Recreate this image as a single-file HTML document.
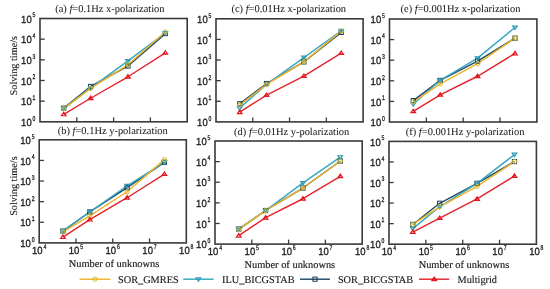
<!DOCTYPE html><html><head><meta charset="utf-8"><style>html,body{margin:0;padding:0;background:#fff;overflow:hidden;width:550px;height:289px;}svg{display:block;filter:blur(0.3px);}</style></head><body>
<svg width="550" height="289" viewBox="0 0 550 289">
<rect width="550" height="289" fill="#fff"/>
<polyline points="63.74,108.16 90.6,86.47 127.95,66.02 165.3,33.58" fill="none" stroke="#1f4a66" stroke-width="1.45" stroke-linejoin="round"/>
<polyline points="63.74,108.58 90.6,88.12 127.95,60.85 165.3,32.96" fill="none" stroke="#38a7c0" stroke-width="1.45" stroke-linejoin="round"/>
<polyline points="63.74,108.58 90.6,88.33 127.95,64.78 165.3,31.93" fill="none" stroke="#efb32a" stroke-width="1.45" stroke-linejoin="round"/>
<polyline points="63.74,114.36 90.6,98.25 127.95,76.76 165.3,52.8" fill="none" stroke="#e3252d" stroke-width="1.45" stroke-linejoin="round"/>
<rect x="61.64" y="106.06" width="4.2" height="4.2" fill="none" stroke="#1b3f58" stroke-width="1.0"/>
<rect x="88.5" y="84.37" width="4.2" height="4.2" fill="none" stroke="#1b3f58" stroke-width="1.0"/>
<rect x="125.85" y="63.92" width="4.2" height="4.2" fill="none" stroke="#1b3f58" stroke-width="1.0"/>
<rect x="163.2" y="31.48" width="4.2" height="4.2" fill="none" stroke="#1b3f58" stroke-width="1.0"/>
<polygon points="61.49,107.23 65.99,107.23 63.74,110.6" fill="none" stroke="#2f9ab4" stroke-width="1.2" stroke-linejoin="miter"/>
<polygon points="88.35,86.77 92.85,86.77 90.6,90.15" fill="none" stroke="#2f9ab4" stroke-width="1.2" stroke-linejoin="miter"/>
<polygon points="125.7,59.5 130.2,59.5 127.95,62.88" fill="none" stroke="#2f9ab4" stroke-width="1.2" stroke-linejoin="miter"/>
<polygon points="163.05,31.61 167.55,31.61 165.3,34.99" fill="none" stroke="#2f9ab4" stroke-width="1.2" stroke-linejoin="miter"/>
<circle cx="63.74" cy="108.58" r="2.1" fill="none" stroke="#d8bb2a" stroke-width="1.0"/>
<circle cx="90.6" cy="88.33" r="2.1" fill="none" stroke="#d8bb2a" stroke-width="1.0"/>
<circle cx="127.95" cy="64.78" r="2.1" fill="none" stroke="#d8bb2a" stroke-width="1.0"/>
<circle cx="165.3" cy="31.93" r="2.1" fill="none" stroke="#d8bb2a" stroke-width="1.0"/>
<polygon points="61.44,115.74 66.04,115.74 63.74,112.29" fill="none" stroke="#e3141e" stroke-width="1.2" stroke-linejoin="miter"/>
<polygon points="88.3,99.63 92.9,99.63 90.6,96.18" fill="none" stroke="#e3141e" stroke-width="1.2" stroke-linejoin="miter"/>
<polygon points="125.65,78.14 130.25,78.14 127.95,74.69" fill="none" stroke="#e3141e" stroke-width="1.2" stroke-linejoin="miter"/>
<polygon points="163,54.18 167.6,54.18 165.3,50.73" fill="none" stroke="#e3141e" stroke-width="1.2" stroke-linejoin="miter"/>
<rect x="40" y="18.5" width="147.2" height="103.3" fill="none" stroke="#3a3a3a" stroke-width="1.6"/>
<line x1="40" y1="101.14" x2="44.7" y2="101.14" stroke="#3a3a3a" stroke-width="1.3"/>
<line x1="40" y1="80.48" x2="44.7" y2="80.48" stroke="#3a3a3a" stroke-width="1.3"/>
<line x1="40" y1="59.82" x2="44.7" y2="59.82" stroke="#3a3a3a" stroke-width="1.3"/>
<line x1="40" y1="39.16" x2="44.7" y2="39.16" stroke="#3a3a3a" stroke-width="1.3"/>
<line x1="76.8" y1="121.8" x2="76.8" y2="117.3" stroke="#3a3a3a" stroke-width="1.3"/>
<line x1="113.6" y1="121.8" x2="113.6" y2="117.3" stroke="#3a3a3a" stroke-width="1.3"/>
<line x1="150.4" y1="121.8" x2="150.4" y2="117.3" stroke="#3a3a3a" stroke-width="1.3"/>
<g font-family="'Liberation Sans', Arial, sans-serif" fill="#1e1e1e" stroke="#1e1e1e" stroke-width="0.3" text-rendering="geometricPrecision">
<text transform="translate(31.7,125.95) scale(1,1.09)" font-size="9.5" text-anchor="end">10</text>
<text transform="translate(32.5,120.65) scale(0.75,1)" font-size="6.8" stroke-width="0.28">0</text>
<text transform="translate(31.7,105.29) scale(1,1.09)" font-size="9.5" text-anchor="end">10</text>
<text transform="translate(32.5,99.99) scale(0.75,1)" font-size="6.8" stroke-width="0.28">1</text>
<text transform="translate(31.7,84.63) scale(1,1.09)" font-size="9.5" text-anchor="end">10</text>
<text transform="translate(32.5,79.33) scale(0.75,1)" font-size="6.8" stroke-width="0.28">2</text>
<text transform="translate(31.7,63.97) scale(1,1.09)" font-size="9.5" text-anchor="end">10</text>
<text transform="translate(32.5,58.67) scale(0.75,1)" font-size="6.8" stroke-width="0.28">3</text>
<text transform="translate(31.7,43.31) scale(1,1.09)" font-size="9.5" text-anchor="end">10</text>
<text transform="translate(32.5,38.01) scale(0.75,1)" font-size="6.8" stroke-width="0.28">4</text>
<text transform="translate(31.7,22.65) scale(1,1.09)" font-size="9.5" text-anchor="end">10</text>
<text transform="translate(32.5,17.35) scale(0.75,1)" font-size="6.8" stroke-width="0.28">5</text>
</g>
<text x="55.2" y="12.25" font-family="'Liberation Serif', 'Times New Roman', serif" font-size="10.45" fill="#1a1a1a" stroke="#1a1a1a" stroke-width="0.05" text-rendering="geometricPrecision">(a) <tspan font-style="italic">f</tspan>=0.1Hz x-polarization</text>
<text transform="translate(17,65.7) rotate(-90)" text-anchor="middle" font-family="'Liberation Serif', 'Times New Roman', serif" font-size="10.25" fill="#1a1a1a" stroke="#1a1a1a" stroke-width="0.1" text-rendering="geometricPrecision">Solving time/s</text>
<polyline points="239.72,103.75 266.57,83.55 303.89,61.9 341.22,32.41" fill="none" stroke="#1f4a66" stroke-width="1.45" stroke-linejoin="round"/>
<polyline points="239.72,108.08 266.57,84.37 303.89,57.57 341.22,30.76" fill="none" stroke="#38a7c0" stroke-width="1.45" stroke-linejoin="round"/>
<polyline points="239.72,104.99 266.57,84.37 303.89,61.9 341.22,31.17" fill="none" stroke="#efb32a" stroke-width="1.45" stroke-linejoin="round"/>
<polyline points="239.72,112.21 266.57,95.09 303.89,76.12 341.22,53.03" fill="none" stroke="#e3252d" stroke-width="1.45" stroke-linejoin="round"/>
<rect x="237.62" y="101.65" width="4.2" height="4.2" fill="none" stroke="#1b3f58" stroke-width="1.0"/>
<rect x="264.47" y="81.45" width="4.2" height="4.2" fill="none" stroke="#1b3f58" stroke-width="1.0"/>
<rect x="301.79" y="59.8" width="4.2" height="4.2" fill="none" stroke="#1b3f58" stroke-width="1.0"/>
<rect x="339.12" y="30.31" width="4.2" height="4.2" fill="none" stroke="#1b3f58" stroke-width="1.0"/>
<polygon points="237.47,106.73 241.97,106.73 239.72,110.11" fill="none" stroke="#2f9ab4" stroke-width="1.2" stroke-linejoin="miter"/>
<polygon points="264.32,83.02 268.82,83.02 266.57,86.4" fill="none" stroke="#2f9ab4" stroke-width="1.2" stroke-linejoin="miter"/>
<polygon points="301.64,56.22 306.14,56.22 303.89,59.59" fill="none" stroke="#2f9ab4" stroke-width="1.2" stroke-linejoin="miter"/>
<polygon points="338.97,29.41 343.47,29.41 341.22,32.78" fill="none" stroke="#2f9ab4" stroke-width="1.2" stroke-linejoin="miter"/>
<circle cx="239.72" cy="104.99" r="2.1" fill="none" stroke="#d8bb2a" stroke-width="1.0"/>
<circle cx="266.57" cy="84.37" r="2.1" fill="none" stroke="#d8bb2a" stroke-width="1.0"/>
<circle cx="303.89" cy="61.9" r="2.1" fill="none" stroke="#d8bb2a" stroke-width="1.0"/>
<circle cx="341.22" cy="31.17" r="2.1" fill="none" stroke="#d8bb2a" stroke-width="1.0"/>
<polygon points="237.42,113.59 242.02,113.59 239.72,110.14" fill="none" stroke="#e3141e" stroke-width="1.2" stroke-linejoin="miter"/>
<polygon points="264.27,96.47 268.87,96.47 266.57,93.02" fill="none" stroke="#e3141e" stroke-width="1.2" stroke-linejoin="miter"/>
<polygon points="301.59,77.5 306.19,77.5 303.89,74.05" fill="none" stroke="#e3141e" stroke-width="1.2" stroke-linejoin="miter"/>
<polygon points="338.92,54.41 343.52,54.41 341.22,50.96" fill="none" stroke="#e3141e" stroke-width="1.2" stroke-linejoin="miter"/>
<rect x="216" y="18.8" width="147.1" height="103.1" fill="none" stroke="#3a3a3a" stroke-width="1.6"/>
<line x1="216" y1="101.28" x2="220.7" y2="101.28" stroke="#3a3a3a" stroke-width="1.3"/>
<line x1="216" y1="80.66" x2="220.7" y2="80.66" stroke="#3a3a3a" stroke-width="1.3"/>
<line x1="216" y1="60.04" x2="220.7" y2="60.04" stroke="#3a3a3a" stroke-width="1.3"/>
<line x1="216" y1="39.42" x2="220.7" y2="39.42" stroke="#3a3a3a" stroke-width="1.3"/>
<line x1="252.78" y1="121.9" x2="252.78" y2="117.4" stroke="#3a3a3a" stroke-width="1.3"/>
<line x1="289.55" y1="121.9" x2="289.55" y2="117.4" stroke="#3a3a3a" stroke-width="1.3"/>
<line x1="326.33" y1="121.9" x2="326.33" y2="117.4" stroke="#3a3a3a" stroke-width="1.3"/>
<g font-family="'Liberation Sans', Arial, sans-serif" fill="#1e1e1e" stroke="#1e1e1e" stroke-width="0.3" text-rendering="geometricPrecision">
<text transform="translate(207.7,126.05) scale(1,1.09)" font-size="9.5" text-anchor="end">10</text>
<text transform="translate(208.5,120.75) scale(0.75,1)" font-size="6.8" stroke-width="0.28">0</text>
<text transform="translate(207.7,105.43) scale(1,1.09)" font-size="9.5" text-anchor="end">10</text>
<text transform="translate(208.5,100.13) scale(0.75,1)" font-size="6.8" stroke-width="0.28">1</text>
<text transform="translate(207.7,84.81) scale(1,1.09)" font-size="9.5" text-anchor="end">10</text>
<text transform="translate(208.5,79.51) scale(0.75,1)" font-size="6.8" stroke-width="0.28">2</text>
<text transform="translate(207.7,64.19) scale(1,1.09)" font-size="9.5" text-anchor="end">10</text>
<text transform="translate(208.5,58.89) scale(0.75,1)" font-size="6.8" stroke-width="0.28">3</text>
<text transform="translate(207.7,43.57) scale(1,1.09)" font-size="9.5" text-anchor="end">10</text>
<text transform="translate(208.5,38.27) scale(0.75,1)" font-size="6.8" stroke-width="0.28">4</text>
<text transform="translate(207.7,22.95) scale(1,1.09)" font-size="9.5" text-anchor="end">10</text>
<text transform="translate(208.5,17.65) scale(0.75,1)" font-size="6.8" stroke-width="0.28">5</text>
</g>
<text x="231.5" y="12.25" font-family="'Liberation Serif', 'Times New Roman', serif" font-size="10.45" fill="#1a1a1a" stroke="#1a1a1a" stroke-width="0.05" text-rendering="geometricPrecision">(c) <tspan font-style="italic">f</tspan>=0.01Hz x-polarization</text>
<polyline points="413.27,100.58 440.17,80.39 477.57,61.02 514.97,38.16" fill="none" stroke="#1f4a66" stroke-width="1.45" stroke-linejoin="round"/>
<polyline points="413.27,104.08 440.17,80.39 477.57,58.14 514.97,27.45" fill="none" stroke="#38a7c0" stroke-width="1.45" stroke-linejoin="round"/>
<polyline points="413.27,102.02 440.17,83.89 477.57,63.7 514.97,38.16" fill="none" stroke="#efb32a" stroke-width="1.45" stroke-linejoin="round"/>
<polyline points="413.27,111.29 440.17,94.81 477.57,76.27 514.97,53.4" fill="none" stroke="#e3252d" stroke-width="1.45" stroke-linejoin="round"/>
<rect x="411.17" y="98.48" width="4.2" height="4.2" fill="none" stroke="#1b3f58" stroke-width="1.0"/>
<rect x="438.07" y="78.29" width="4.2" height="4.2" fill="none" stroke="#1b3f58" stroke-width="1.0"/>
<rect x="475.47" y="58.92" width="4.2" height="4.2" fill="none" stroke="#1b3f58" stroke-width="1.0"/>
<rect x="512.87" y="36.06" width="4.2" height="4.2" fill="none" stroke="#1b3f58" stroke-width="1.0"/>
<polygon points="411.02,102.73 415.52,102.73 413.27,106.1" fill="none" stroke="#2f9ab4" stroke-width="1.2" stroke-linejoin="miter"/>
<polygon points="437.92,79.04 442.42,79.04 440.17,82.41" fill="none" stroke="#2f9ab4" stroke-width="1.2" stroke-linejoin="miter"/>
<polygon points="475.32,56.79 479.82,56.79 477.57,60.16" fill="none" stroke="#2f9ab4" stroke-width="1.2" stroke-linejoin="miter"/>
<polygon points="512.72,26.1 517.22,26.1 514.97,29.47" fill="none" stroke="#2f9ab4" stroke-width="1.2" stroke-linejoin="miter"/>
<circle cx="413.27" cy="102.02" r="2.1" fill="none" stroke="#d8bb2a" stroke-width="1.0"/>
<circle cx="440.17" cy="83.89" r="2.1" fill="none" stroke="#d8bb2a" stroke-width="1.0"/>
<circle cx="477.57" cy="63.7" r="2.1" fill="none" stroke="#d8bb2a" stroke-width="1.0"/>
<circle cx="514.97" cy="38.16" r="2.1" fill="none" stroke="#d8bb2a" stroke-width="1.0"/>
<polygon points="410.97,112.67 415.57,112.67 413.27,109.22" fill="none" stroke="#e3141e" stroke-width="1.2" stroke-linejoin="miter"/>
<polygon points="437.87,96.19 442.47,96.19 440.17,92.74" fill="none" stroke="#e3141e" stroke-width="1.2" stroke-linejoin="miter"/>
<polygon points="475.27,77.65 479.87,77.65 477.57,74.2" fill="none" stroke="#e3141e" stroke-width="1.2" stroke-linejoin="miter"/>
<polygon points="512.67,54.78 517.27,54.78 514.97,51.33" fill="none" stroke="#e3141e" stroke-width="1.2" stroke-linejoin="miter"/>
<rect x="389.5" y="19" width="147.4" height="103" fill="none" stroke="#3a3a3a" stroke-width="1.6"/>
<line x1="389.5" y1="101.4" x2="394.2" y2="101.4" stroke="#3a3a3a" stroke-width="1.3"/>
<line x1="389.5" y1="80.8" x2="394.2" y2="80.8" stroke="#3a3a3a" stroke-width="1.3"/>
<line x1="389.5" y1="60.2" x2="394.2" y2="60.2" stroke="#3a3a3a" stroke-width="1.3"/>
<line x1="389.5" y1="39.6" x2="394.2" y2="39.6" stroke="#3a3a3a" stroke-width="1.3"/>
<line x1="426.35" y1="122" x2="426.35" y2="117.5" stroke="#3a3a3a" stroke-width="1.3"/>
<line x1="463.2" y1="122" x2="463.2" y2="117.5" stroke="#3a3a3a" stroke-width="1.3"/>
<line x1="500.05" y1="122" x2="500.05" y2="117.5" stroke="#3a3a3a" stroke-width="1.3"/>
<g font-family="'Liberation Sans', Arial, sans-serif" fill="#1e1e1e" stroke="#1e1e1e" stroke-width="0.3" text-rendering="geometricPrecision">
<text transform="translate(381.2,126.15) scale(1,1.09)" font-size="9.5" text-anchor="end">10</text>
<text transform="translate(382,120.85) scale(0.75,1)" font-size="6.8" stroke-width="0.28">0</text>
<text transform="translate(381.2,105.55) scale(1,1.09)" font-size="9.5" text-anchor="end">10</text>
<text transform="translate(382,100.25) scale(0.75,1)" font-size="6.8" stroke-width="0.28">1</text>
<text transform="translate(381.2,84.95) scale(1,1.09)" font-size="9.5" text-anchor="end">10</text>
<text transform="translate(382,79.65) scale(0.75,1)" font-size="6.8" stroke-width="0.28">2</text>
<text transform="translate(381.2,64.35) scale(1,1.09)" font-size="9.5" text-anchor="end">10</text>
<text transform="translate(382,59.05) scale(0.75,1)" font-size="6.8" stroke-width="0.28">3</text>
<text transform="translate(381.2,43.75) scale(1,1.09)" font-size="9.5" text-anchor="end">10</text>
<text transform="translate(382,38.45) scale(0.75,1)" font-size="6.8" stroke-width="0.28">4</text>
<text transform="translate(381.2,23.15) scale(1,1.09)" font-size="9.5" text-anchor="end">10</text>
<text transform="translate(382,17.85) scale(0.75,1)" font-size="6.8" stroke-width="0.28">5</text>
</g>
<text x="400.6" y="12.25" font-family="'Liberation Serif', 'Times New Roman', serif" font-size="10.45" fill="#1a1a1a" stroke="#1a1a1a" stroke-width="0.05" text-rendering="geometricPrecision">(e) <tspan font-style="italic">f</tspan>=0.001Hz x-polarization</text>
<polyline points="62.92,231.15 89.77,211.97 127.09,187.64 164.42,162.28" fill="none" stroke="#1f4a66" stroke-width="1.45" stroke-linejoin="round"/>
<polyline points="62.92,230.73 89.77,211.97 127.09,185.78 164.42,162.28" fill="none" stroke="#38a7c0" stroke-width="1.45" stroke-linejoin="round"/>
<polyline points="62.92,231.97 89.77,215.89 127.09,191.76 164.42,159.6" fill="none" stroke="#efb32a" stroke-width="1.45" stroke-linejoin="round"/>
<polyline points="62.92,237.13 89.77,219.6 127.09,197.74 164.42,174.03" fill="none" stroke="#e3252d" stroke-width="1.45" stroke-linejoin="round"/>
<rect x="60.82" y="229.05" width="4.2" height="4.2" fill="none" stroke="#1b3f58" stroke-width="1.0"/>
<rect x="87.67" y="209.87" width="4.2" height="4.2" fill="none" stroke="#1b3f58" stroke-width="1.0"/>
<rect x="124.99" y="185.54" width="4.2" height="4.2" fill="none" stroke="#1b3f58" stroke-width="1.0"/>
<rect x="162.32" y="160.18" width="4.2" height="4.2" fill="none" stroke="#1b3f58" stroke-width="1.0"/>
<polygon points="60.67,229.38 65.17,229.38 62.92,232.76" fill="none" stroke="#2f9ab4" stroke-width="1.2" stroke-linejoin="miter"/>
<polygon points="87.52,210.62 92.02,210.62 89.77,214" fill="none" stroke="#2f9ab4" stroke-width="1.2" stroke-linejoin="miter"/>
<polygon points="124.84,184.43 129.34,184.43 127.09,187.81" fill="none" stroke="#2f9ab4" stroke-width="1.2" stroke-linejoin="miter"/>
<polygon points="162.17,160.93 166.67,160.93 164.42,164.3" fill="none" stroke="#2f9ab4" stroke-width="1.2" stroke-linejoin="miter"/>
<circle cx="62.92" cy="231.97" r="2.1" fill="none" stroke="#d8bb2a" stroke-width="1.0"/>
<circle cx="89.77" cy="215.89" r="2.1" fill="none" stroke="#d8bb2a" stroke-width="1.0"/>
<circle cx="127.09" cy="191.76" r="2.1" fill="none" stroke="#d8bb2a" stroke-width="1.0"/>
<circle cx="164.42" cy="159.6" r="2.1" fill="none" stroke="#d8bb2a" stroke-width="1.0"/>
<polygon points="60.62,238.51 65.22,238.51 62.92,235.06" fill="none" stroke="#e3141e" stroke-width="1.2" stroke-linejoin="miter"/>
<polygon points="87.47,220.98 92.07,220.98 89.77,217.53" fill="none" stroke="#e3141e" stroke-width="1.2" stroke-linejoin="miter"/>
<polygon points="124.79,199.12 129.39,199.12 127.09,195.67" fill="none" stroke="#e3141e" stroke-width="1.2" stroke-linejoin="miter"/>
<polygon points="162.12,175.41 166.72,175.41 164.42,171.96" fill="none" stroke="#e3141e" stroke-width="1.2" stroke-linejoin="miter"/>
<rect x="39.2" y="139.8" width="147.1" height="103.1" fill="none" stroke="#3a3a3a" stroke-width="1.6"/>
<line x1="39.2" y1="222.28" x2="43.9" y2="222.28" stroke="#3a3a3a" stroke-width="1.3"/>
<line x1="39.2" y1="201.66" x2="43.9" y2="201.66" stroke="#3a3a3a" stroke-width="1.3"/>
<line x1="39.2" y1="181.04" x2="43.9" y2="181.04" stroke="#3a3a3a" stroke-width="1.3"/>
<line x1="39.2" y1="160.42" x2="43.9" y2="160.42" stroke="#3a3a3a" stroke-width="1.3"/>
<line x1="75.98" y1="242.9" x2="75.98" y2="238.4" stroke="#3a3a3a" stroke-width="1.3"/>
<line x1="112.75" y1="242.9" x2="112.75" y2="238.4" stroke="#3a3a3a" stroke-width="1.3"/>
<line x1="149.53" y1="242.9" x2="149.53" y2="238.4" stroke="#3a3a3a" stroke-width="1.3"/>
<g font-family="'Liberation Sans', Arial, sans-serif" fill="#1e1e1e" stroke="#1e1e1e" stroke-width="0.3" text-rendering="geometricPrecision">
<text transform="translate(30.9,247.05) scale(1,1.09)" font-size="9.5" text-anchor="end">10</text>
<text transform="translate(31.7,241.75) scale(0.75,1)" font-size="6.8" stroke-width="0.28">0</text>
<text transform="translate(30.9,226.43) scale(1,1.09)" font-size="9.5" text-anchor="end">10</text>
<text transform="translate(31.7,221.13) scale(0.75,1)" font-size="6.8" stroke-width="0.28">1</text>
<text transform="translate(30.9,205.81) scale(1,1.09)" font-size="9.5" text-anchor="end">10</text>
<text transform="translate(31.7,200.51) scale(0.75,1)" font-size="6.8" stroke-width="0.28">2</text>
<text transform="translate(30.9,185.19) scale(1,1.09)" font-size="9.5" text-anchor="end">10</text>
<text transform="translate(31.7,179.89) scale(0.75,1)" font-size="6.8" stroke-width="0.28">3</text>
<text transform="translate(30.9,164.57) scale(1,1.09)" font-size="9.5" text-anchor="end">10</text>
<text transform="translate(31.7,159.27) scale(0.75,1)" font-size="6.8" stroke-width="0.28">4</text>
<text transform="translate(30.9,143.95) scale(1,1.09)" font-size="9.5" text-anchor="end">10</text>
<text transform="translate(31.7,138.65) scale(0.75,1)" font-size="6.8" stroke-width="0.28">5</text>
<text transform="translate(42.6,253.8) scale(1,1.09)" font-size="9.5" text-anchor="end">10</text>
<text transform="translate(43.4,248.5) scale(0.75,1)" font-size="6.8" stroke-width="0.28">4</text>
<text transform="translate(79.38,253.8) scale(1,1.09)" font-size="9.5" text-anchor="end">10</text>
<text transform="translate(80.18,248.5) scale(0.75,1)" font-size="6.8" stroke-width="0.28">5</text>
<text transform="translate(116.15,253.8) scale(1,1.09)" font-size="9.5" text-anchor="end">10</text>
<text transform="translate(116.95,248.5) scale(0.75,1)" font-size="6.8" stroke-width="0.28">6</text>
<text transform="translate(152.93,253.8) scale(1,1.09)" font-size="9.5" text-anchor="end">10</text>
<text transform="translate(153.73,248.5) scale(0.75,1)" font-size="6.8" stroke-width="0.28">7</text>
<text transform="translate(189.7,253.8) scale(1,1.09)" font-size="9.5" text-anchor="end">10</text>
<text transform="translate(190.5,248.5) scale(0.75,1)" font-size="6.8" stroke-width="0.28">8</text>
</g>
<text x="57.8" y="133.85" font-family="'Liberation Serif', 'Times New Roman', serif" font-size="10.45" fill="#1a1a1a" stroke="#1a1a1a" stroke-width="0.05" text-rendering="geometricPrecision">(b) <tspan font-style="italic">f</tspan>=0.1Hz y-polarization</text>
<text transform="translate(17,186.1) rotate(-90)" text-anchor="middle" font-family="'Liberation Serif', 'Times New Roman', serif" font-size="10.25" fill="#1a1a1a" stroke="#1a1a1a" stroke-width="0.1" text-rendering="geometricPrecision">Solving time/s</text>
<text x="114" y="266.5" text-anchor="middle" font-family="'Liberation Serif', 'Times New Roman', serif" font-size="10.4" fill="#1a1a1a" stroke="#1a1a1a" stroke-width="0.16" text-rendering="geometricPrecision">Number of unknowns</text>
<polyline points="238.74,229.05 265.6,210.49 302.95,188.01 340.3,161" fill="none" stroke="#1f4a66" stroke-width="1.45" stroke-linejoin="round"/>
<polyline points="238.74,229.46 265.6,210.7 302.95,182.86 340.3,157.08" fill="none" stroke="#38a7c0" stroke-width="1.45" stroke-linejoin="round"/>
<polyline points="238.74,229.46 265.6,210.7 302.95,188.01 340.3,161" fill="none" stroke="#efb32a" stroke-width="1.45" stroke-linejoin="round"/>
<polyline points="238.74,235.65 265.6,217.71 302.95,198.74 340.3,176.26" fill="none" stroke="#e3252d" stroke-width="1.45" stroke-linejoin="round"/>
<rect x="236.64" y="226.95" width="4.2" height="4.2" fill="none" stroke="#1b3f58" stroke-width="1.0"/>
<rect x="263.5" y="208.39" width="4.2" height="4.2" fill="none" stroke="#1b3f58" stroke-width="1.0"/>
<rect x="300.85" y="185.91" width="4.2" height="4.2" fill="none" stroke="#1b3f58" stroke-width="1.0"/>
<rect x="338.2" y="158.9" width="4.2" height="4.2" fill="none" stroke="#1b3f58" stroke-width="1.0"/>
<polygon points="236.49,228.11 240.99,228.11 238.74,231.48" fill="none" stroke="#2f9ab4" stroke-width="1.2" stroke-linejoin="miter"/>
<polygon points="263.35,209.35 267.85,209.35 265.6,212.72" fill="none" stroke="#2f9ab4" stroke-width="1.2" stroke-linejoin="miter"/>
<polygon points="300.7,181.51 305.2,181.51 302.95,184.88" fill="none" stroke="#2f9ab4" stroke-width="1.2" stroke-linejoin="miter"/>
<polygon points="338.05,155.73 342.55,155.73 340.3,159.11" fill="none" stroke="#2f9ab4" stroke-width="1.2" stroke-linejoin="miter"/>
<circle cx="238.74" cy="229.46" r="2.1" fill="none" stroke="#d8bb2a" stroke-width="1.0"/>
<circle cx="265.6" cy="210.7" r="2.1" fill="none" stroke="#d8bb2a" stroke-width="1.0"/>
<circle cx="302.95" cy="188.01" r="2.1" fill="none" stroke="#d8bb2a" stroke-width="1.0"/>
<circle cx="340.3" cy="161" r="2.1" fill="none" stroke="#d8bb2a" stroke-width="1.0"/>
<polygon points="236.44,237.03 241.04,237.03 238.74,233.58" fill="none" stroke="#e3141e" stroke-width="1.2" stroke-linejoin="miter"/>
<polygon points="263.3,219.09 267.9,219.09 265.6,215.64" fill="none" stroke="#e3141e" stroke-width="1.2" stroke-linejoin="miter"/>
<polygon points="300.65,200.12 305.25,200.12 302.95,196.67" fill="none" stroke="#e3141e" stroke-width="1.2" stroke-linejoin="miter"/>
<polygon points="338,177.64 342.6,177.64 340.3,174.19" fill="none" stroke="#e3141e" stroke-width="1.2" stroke-linejoin="miter"/>
<rect x="215" y="141" width="147.2" height="103.1" fill="none" stroke="#3a3a3a" stroke-width="1.6"/>
<line x1="215" y1="223.48" x2="219.7" y2="223.48" stroke="#3a3a3a" stroke-width="1.3"/>
<line x1="215" y1="202.86" x2="219.7" y2="202.86" stroke="#3a3a3a" stroke-width="1.3"/>
<line x1="215" y1="182.24" x2="219.7" y2="182.24" stroke="#3a3a3a" stroke-width="1.3"/>
<line x1="215" y1="161.62" x2="219.7" y2="161.62" stroke="#3a3a3a" stroke-width="1.3"/>
<line x1="251.8" y1="244.1" x2="251.8" y2="239.6" stroke="#3a3a3a" stroke-width="1.3"/>
<line x1="288.6" y1="244.1" x2="288.6" y2="239.6" stroke="#3a3a3a" stroke-width="1.3"/>
<line x1="325.4" y1="244.1" x2="325.4" y2="239.6" stroke="#3a3a3a" stroke-width="1.3"/>
<g font-family="'Liberation Sans', Arial, sans-serif" fill="#1e1e1e" stroke="#1e1e1e" stroke-width="0.3" text-rendering="geometricPrecision">
<text transform="translate(206.7,248.25) scale(1,1.09)" font-size="9.5" text-anchor="end">10</text>
<text transform="translate(207.5,242.95) scale(0.75,1)" font-size="6.8" stroke-width="0.28">0</text>
<text transform="translate(206.7,227.63) scale(1,1.09)" font-size="9.5" text-anchor="end">10</text>
<text transform="translate(207.5,222.33) scale(0.75,1)" font-size="6.8" stroke-width="0.28">1</text>
<text transform="translate(206.7,207.01) scale(1,1.09)" font-size="9.5" text-anchor="end">10</text>
<text transform="translate(207.5,201.71) scale(0.75,1)" font-size="6.8" stroke-width="0.28">2</text>
<text transform="translate(206.7,186.39) scale(1,1.09)" font-size="9.5" text-anchor="end">10</text>
<text transform="translate(207.5,181.09) scale(0.75,1)" font-size="6.8" stroke-width="0.28">3</text>
<text transform="translate(206.7,165.77) scale(1,1.09)" font-size="9.5" text-anchor="end">10</text>
<text transform="translate(207.5,160.47) scale(0.75,1)" font-size="6.8" stroke-width="0.28">4</text>
<text transform="translate(206.7,145.15) scale(1,1.09)" font-size="9.5" text-anchor="end">10</text>
<text transform="translate(207.5,139.85) scale(0.75,1)" font-size="6.8" stroke-width="0.28">5</text>
<text transform="translate(218.4,255) scale(1,1.09)" font-size="9.5" text-anchor="end">10</text>
<text transform="translate(219.2,249.7) scale(0.75,1)" font-size="6.8" stroke-width="0.28">4</text>
<text transform="translate(255.2,255) scale(1,1.09)" font-size="9.5" text-anchor="end">10</text>
<text transform="translate(256,249.7) scale(0.75,1)" font-size="6.8" stroke-width="0.28">5</text>
<text transform="translate(292,255) scale(1,1.09)" font-size="9.5" text-anchor="end">10</text>
<text transform="translate(292.8,249.7) scale(0.75,1)" font-size="6.8" stroke-width="0.28">6</text>
<text transform="translate(328.8,255) scale(1,1.09)" font-size="9.5" text-anchor="end">10</text>
<text transform="translate(329.6,249.7) scale(0.75,1)" font-size="6.8" stroke-width="0.28">7</text>
<text transform="translate(365.6,255) scale(1,1.09)" font-size="9.5" text-anchor="end">10</text>
<text transform="translate(366.4,249.7) scale(0.75,1)" font-size="6.8" stroke-width="0.28">8</text>
</g>
<text x="234.1" y="134.85" font-family="'Liberation Serif', 'Times New Roman', serif" font-size="10.45" fill="#1a1a1a" stroke="#1a1a1a" stroke-width="0.05" text-rendering="geometricPrecision">(d) <tspan font-style="italic">f</tspan>=0.01Hz y-polarization</text>
<text x="289.85" y="267.7" text-anchor="middle" font-family="'Liberation Serif', 'Times New Roman', serif" font-size="10.4" fill="#1a1a1a" stroke="#1a1a1a" stroke-width="0.16" text-rendering="geometricPrecision">Number of unknowns</text>
<polyline points="412.77,224.46 439.67,203.29 477.07,183.34 514.47,161.55" fill="none" stroke="#1f4a66" stroke-width="1.45" stroke-linejoin="round"/>
<polyline points="412.77,228.57 439.67,206.78 477.07,183.34 514.47,154.56" fill="none" stroke="#38a7c0" stroke-width="1.45" stroke-linejoin="round"/>
<polyline points="412.77,224.46 439.67,206.78 477.07,186.43 514.47,161.55" fill="none" stroke="#efb32a" stroke-width="1.45" stroke-linejoin="round"/>
<polyline points="412.77,232.07 439.67,218.09 477.07,198.97 514.47,175.94" fill="none" stroke="#e3252d" stroke-width="1.45" stroke-linejoin="round"/>
<rect x="410.67" y="222.36" width="4.2" height="4.2" fill="none" stroke="#1b3f58" stroke-width="1.0"/>
<rect x="437.57" y="201.19" width="4.2" height="4.2" fill="none" stroke="#1b3f58" stroke-width="1.0"/>
<rect x="474.97" y="181.24" width="4.2" height="4.2" fill="none" stroke="#1b3f58" stroke-width="1.0"/>
<rect x="512.37" y="159.45" width="4.2" height="4.2" fill="none" stroke="#1b3f58" stroke-width="1.0"/>
<polygon points="410.52,227.22 415.02,227.22 412.77,230.6" fill="none" stroke="#2f9ab4" stroke-width="1.2" stroke-linejoin="miter"/>
<polygon points="437.42,205.43 441.92,205.43 439.67,208.81" fill="none" stroke="#2f9ab4" stroke-width="1.2" stroke-linejoin="miter"/>
<polygon points="474.82,181.99 479.32,181.99 477.07,185.37" fill="none" stroke="#2f9ab4" stroke-width="1.2" stroke-linejoin="miter"/>
<polygon points="512.22,153.21 516.72,153.21 514.47,156.58" fill="none" stroke="#2f9ab4" stroke-width="1.2" stroke-linejoin="miter"/>
<circle cx="412.77" cy="224.46" r="2.1" fill="none" stroke="#d8bb2a" stroke-width="1.0"/>
<circle cx="439.67" cy="206.78" r="2.1" fill="none" stroke="#d8bb2a" stroke-width="1.0"/>
<circle cx="477.07" cy="186.43" r="2.1" fill="none" stroke="#d8bb2a" stroke-width="1.0"/>
<circle cx="514.47" cy="161.55" r="2.1" fill="none" stroke="#d8bb2a" stroke-width="1.0"/>
<polygon points="410.47,233.45 415.07,233.45 412.77,230" fill="none" stroke="#e3141e" stroke-width="1.2" stroke-linejoin="miter"/>
<polygon points="437.37,219.47 441.97,219.47 439.67,216.02" fill="none" stroke="#e3141e" stroke-width="1.2" stroke-linejoin="miter"/>
<polygon points="474.77,200.35 479.37,200.35 477.07,196.9" fill="none" stroke="#e3141e" stroke-width="1.2" stroke-linejoin="miter"/>
<polygon points="512.17,177.32 516.77,177.32 514.47,173.87" fill="none" stroke="#e3141e" stroke-width="1.2" stroke-linejoin="miter"/>
<rect x="389" y="141.4" width="147.4" height="102.8" fill="none" stroke="#3a3a3a" stroke-width="1.6"/>
<line x1="389" y1="223.64" x2="393.7" y2="223.64" stroke="#3a3a3a" stroke-width="1.3"/>
<line x1="389" y1="203.08" x2="393.7" y2="203.08" stroke="#3a3a3a" stroke-width="1.3"/>
<line x1="389" y1="182.52" x2="393.7" y2="182.52" stroke="#3a3a3a" stroke-width="1.3"/>
<line x1="389" y1="161.96" x2="393.7" y2="161.96" stroke="#3a3a3a" stroke-width="1.3"/>
<line x1="425.85" y1="244.2" x2="425.85" y2="239.7" stroke="#3a3a3a" stroke-width="1.3"/>
<line x1="462.7" y1="244.2" x2="462.7" y2="239.7" stroke="#3a3a3a" stroke-width="1.3"/>
<line x1="499.55" y1="244.2" x2="499.55" y2="239.7" stroke="#3a3a3a" stroke-width="1.3"/>
<g font-family="'Liberation Sans', Arial, sans-serif" fill="#1e1e1e" stroke="#1e1e1e" stroke-width="0.3" text-rendering="geometricPrecision">
<text transform="translate(380.7,248.35) scale(1,1.09)" font-size="9.5" text-anchor="end">10</text>
<text transform="translate(381.5,243.05) scale(0.75,1)" font-size="6.8" stroke-width="0.28">0</text>
<text transform="translate(380.7,227.79) scale(1,1.09)" font-size="9.5" text-anchor="end">10</text>
<text transform="translate(381.5,222.49) scale(0.75,1)" font-size="6.8" stroke-width="0.28">1</text>
<text transform="translate(380.7,207.23) scale(1,1.09)" font-size="9.5" text-anchor="end">10</text>
<text transform="translate(381.5,201.93) scale(0.75,1)" font-size="6.8" stroke-width="0.28">2</text>
<text transform="translate(380.7,186.67) scale(1,1.09)" font-size="9.5" text-anchor="end">10</text>
<text transform="translate(381.5,181.37) scale(0.75,1)" font-size="6.8" stroke-width="0.28">3</text>
<text transform="translate(380.7,166.11) scale(1,1.09)" font-size="9.5" text-anchor="end">10</text>
<text transform="translate(381.5,160.81) scale(0.75,1)" font-size="6.8" stroke-width="0.28">4</text>
<text transform="translate(380.7,145.55) scale(1,1.09)" font-size="9.5" text-anchor="end">10</text>
<text transform="translate(381.5,140.25) scale(0.75,1)" font-size="6.8" stroke-width="0.28">5</text>
<text transform="translate(392.4,255.1) scale(1,1.09)" font-size="9.5" text-anchor="end">10</text>
<text transform="translate(393.2,249.8) scale(0.75,1)" font-size="6.8" stroke-width="0.28">4</text>
<text transform="translate(429.25,255.1) scale(1,1.09)" font-size="9.5" text-anchor="end">10</text>
<text transform="translate(430.05,249.8) scale(0.75,1)" font-size="6.8" stroke-width="0.28">5</text>
<text transform="translate(466.1,255.1) scale(1,1.09)" font-size="9.5" text-anchor="end">10</text>
<text transform="translate(466.9,249.8) scale(0.75,1)" font-size="6.8" stroke-width="0.28">6</text>
<text transform="translate(502.95,255.1) scale(1,1.09)" font-size="9.5" text-anchor="end">10</text>
<text transform="translate(503.75,249.8) scale(0.75,1)" font-size="6.8" stroke-width="0.28">7</text>
<text transform="translate(539.8,255.1) scale(1,1.09)" font-size="9.5" text-anchor="end">10</text>
<text transform="translate(540.6,249.8) scale(0.75,1)" font-size="6.8" stroke-width="0.28">8</text>
</g>
<text x="405.8" y="134.85" font-family="'Liberation Serif', 'Times New Roman', serif" font-size="10.45" fill="#1a1a1a" stroke="#1a1a1a" stroke-width="0.05" text-rendering="geometricPrecision">(f) <tspan font-style="italic">f</tspan>=0.001Hz y-polarization</text>
<text x="463.95" y="267.8" text-anchor="middle" font-family="'Liberation Serif', 'Times New Roman', serif" font-size="10.4" fill="#1a1a1a" stroke="#1a1a1a" stroke-width="0.16" text-rendering="geometricPrecision">Number of unknowns</text>
<line x1="79.6" y1="279.2" x2="110.4" y2="279.2" stroke="#efb32a" stroke-width="1.45"/>
<circle cx="94.9" cy="279.2" r="2.1" fill="none" stroke="#d8bb2a" stroke-width="1.0"/>
<text x="118" y="282.8" font-family="'Liberation Serif', 'Times New Roman', serif" font-size="10.3" fill="#1a1a1a" stroke="#1a1a1a" stroke-width="0.14" text-rendering="geometricPrecision">SOR_GMRES</text>
<line x1="183.3" y1="279.2" x2="213.6" y2="279.2" stroke="#38a7c0" stroke-width="1.45"/>
<polygon points="196.15,277.85 200.65,277.85 198.4,281.22" fill="none" stroke="#2f9ab4" stroke-width="1.2" stroke-linejoin="miter"/>
<text x="222.1" y="282.8" font-family="'Liberation Serif', 'Times New Roman', serif" font-size="10.3" fill="#1a1a1a" stroke="#1a1a1a" stroke-width="0.14" text-rendering="geometricPrecision">ILU_BICGSTAB</text>
<line x1="300" y1="279.2" x2="329.9" y2="279.2" stroke="#1f4a66" stroke-width="1.45"/>
<rect x="312.9" y="277.1" width="4.2" height="4.2" fill="none" stroke="#1b3f58" stroke-width="1.0"/>
<text x="337.9" y="282.8" font-family="'Liberation Serif', 'Times New Roman', serif" font-size="10.3" fill="#1a1a1a" stroke="#1a1a1a" stroke-width="0.14" text-rendering="geometricPrecision">SOR_BICGSTAB</text>
<line x1="419" y1="279.2" x2="449.2" y2="279.2" stroke="#e3252d" stroke-width="1.45"/>
<polygon points="431.9,280.58 436.5,280.58 434.2,277.13" fill="none" stroke="#e3141e" stroke-width="1.2" stroke-linejoin="miter"/>
<text x="457.5" y="282.8" font-family="'Liberation Serif', 'Times New Roman', serif" font-size="10.3" fill="#1a1a1a" stroke="#1a1a1a" stroke-width="0.14" text-rendering="geometricPrecision">Multigrid</text>
</svg></body></html>
